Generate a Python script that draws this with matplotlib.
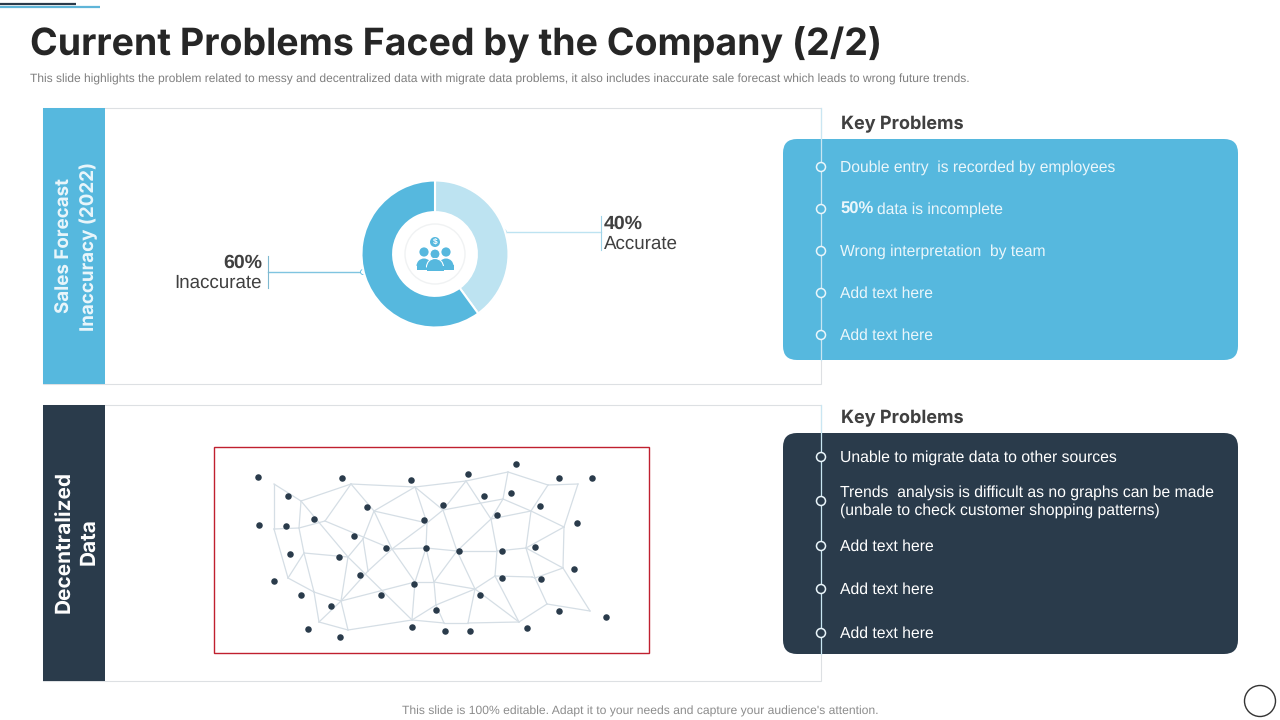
import matplotlib
matplotlib.use("Agg")
import matplotlib.pyplot as plt
from matplotlib.patches import Rectangle, FancyBboxPatch, Circle, Wedge

plt.rcParams["text.hinting"] = "no_hinting"

# donut
donut_labels = ["Accurate", "Inaccurate"]
donut_values = [40, 60]
donut_colors = ["#BDE3F1", "#56B8DE"]

# text
title = "Current Problems Faced by the Company (2/2)"
subtitle = ("This slide highlights the problem related to messy and decentralized data with migrate data problems, "
            "it also includes inaccurate sale forecast which leads to wrong future trends.")
footer = "This slide is 100% editable. Adapt it to your needs and capture your audience's attention."
top_rows = ["Double entry  is recorded by employees", "data is incomplete", "Wrong interpretation  by team", "Add text here", "Add text here"]
top_rows_y = [167, 209, 251, 293, 335]
bottom_rows = ["Unable to migrate data to other sources",
               "Trends  analysis is difficult as no graphs can be made\n(unbale to check customer shopping patterns)",
               "Add text here", "Add text here", "Add text here"]
bottom_rows_y = [457, 501, 546, 589, 633]

# network picture in pixels
dots_x = [258, 342, 411, 288, 367, 314, 424, 259, 286, 354, 386, 426, 290, 339, 360, 414, 274, 301, 381, 331, 308, 340, 412,
          516, 468, 559, 592, 511, 484, 443, 540, 497, 577, 459, 502, 535, 574, 502, 541, 480, 436, 559, 606, 527, 445, 470]
dots_y = [477, 478, 480, 496, 507, 519, 520, 525, 526, 536, 548, 548, 554, 557, 575, 584, 581, 595, 595, 606, 629, 637, 627,
          464, 474, 478, 478, 493, 496, 505, 506, 515, 523, 551, 551, 547, 569, 578, 579, 595, 610, 611, 617, 628, 631, 631]
nodes = {"A": (274, 484), "B": (301, 501), "C": (351, 484), "D": (415, 487), "E": (374, 511), "F": (325, 521),
         "G": (299, 528), "H": (274, 529), "I": (427, 523), "J": (363, 539), "K": (392, 549), "L": (348, 557),
         "M": (304, 553), "N": (288, 578), "O": (368, 571), "P": (314, 592), "Q": (341, 601), "R": (319, 622),
         "S": (348, 630), "T": (412, 620), "a": (466, 481), "b": (508, 472), "c": (548, 485), "d": (578, 484),
         "e": (503, 499), "f": (443, 510), "g": (531, 511), "h": (491, 519), "j": (564, 527), "k": (426, 548),
         "l": (457, 551), "m": (526, 548), "n": (497, 551), "o": (563, 568), "p": (495, 576), "q": (532, 577),
         "r": (535, 578), "s": (475, 589), "t": (434, 582), "u": (547, 604), "v": (590, 611), "w": (519, 622),
         "x": (436, 605), "y": (444, 623), "z": (468, 623), "U": (415, 582)}
edges = ["AB", "AH", "BG", "GH", "BC", "CF", "FG", "CD", "CE", "DE", "DI", "EI", "EK", "EJ", "JO", "FK", "BL", "LJ", "LT",
         "KO", "OQ", "KU", "IK", "Kk", "Ik", "kU", "UT", "Ut", "HN", "NM", "ML", "GM", "MP", "NP", "PQ", "QL", "QU", "PR",
         "QR", "QS", "RS", "ST", "Ty", "Tx", "xs", "xt", "xy", "zs", "zw", "yz", "st", "sl", "tk", "lk", "lt", "lf", "ln",
         "fI", "fa", "fe", "Df", "aD", "ab", "bc", "be", "eh", "eg", "hg", "ah", "hn", "hl", "np", "ps", "pq", "pw", "sw",
         "qr", "cg", "gm", "mn", "mr", "mo", "gj", "cd", "dj", "jm", "jo", "ro", "ru", "ov", "uv", "uw"]

BLUE = "#56B8DE"
DARK = "#2A3B4B"
GREY = "#DDE0E3"
BODY = "Liberation Sans"
HEAD = "Inter"
PALE = "#EAF6FB"


def panel(top, bottom, colour):
    ax.add_patch(Rectangle((43, top), 778, bottom - top, fc="white", ec=GREY, lw=0.8, zorder=1))
    ax.add_patch(Rectangle((43, top), 62, bottom - top, fc=colour, ec="none", zorder=2))


def key_box(top, bottom, colour):
    r = 14
    ax.add_patch(FancyBboxPatch((783 + r, top + r), 455 - 2 * r, bottom - top - 2 * r,
                                boxstyle="round,pad=%d,rounding_size=%d" % (r, r), fc=colour, ec="none", zorder=2))


def row_markers(ys, top, bottom, colour):
    ax.plot([821, 821], [top, bottom], color="#C9E6F2", lw=0.9, zorder=3)
    for y in ys:
        ax.add_patch(Circle((821, y), 4.5, fc=colour, ec=PALE, lw=1.1, zorder=4))


fig = plt.figure(figsize=(12.8, 7.2), dpi=100)
ax = fig.add_axes([0, 0, 1, 1])
ax.set_xlim(0, 1280)
ax.set_ylim(720, 0)
ax.axis("off")

# header
ax.plot([0, 76], [3.5, 3.5], color=DARK, lw=1.6, solid_capstyle="butt")
ax.plot([0, 100], [6.5, 6.5], color="#5FB5D8", lw=1.6, solid_capstyle="butt")
ax.text(30, 45, title, family=HEAD, fontweight="bold", fontsize=27, color="#262626", va="center")
ax.text(30, 79.5, subtitle, family=BODY, fontsize=8.63, color="#7F7F7F", va="center")
ax.text(640, 711, footer, family=BODY, fontsize=8.75, color="#8C8C8C", ha="center", va="center")
ax.add_patch(Circle((1260, 701), 15.5, fc="white", ec="#333333", lw=1))

# left panels
panel(108, 384, BLUE)
panel(405, 681, DARK)
ax.text(77, 246, "Sales Forecast\nInaccuracy (2022)", family=HEAD, fontweight="bold", fontsize=13.5, color=PALE,
        rotation=90, ha="center", va="center", linespacing=1.35, zorder=3)
ax.text(77, 542, "Decentralized\nData", family=HEAD, fontweight="bold", fontsize=15, color="white",
        rotation=90, ha="center", va="center", linespacing=1.25, zorder=3)

# donut
pie_ax = fig.add_axes([(435 - 73.5) / 1280, 1 - (254 + 73.5) / 720, 147 / 1280, 147 / 720])
pie_ax.pie(donut_values, colors=donut_colors, startangle=90, counterclock=False, radius=1,
           wedgeprops=dict(width=0.43, edgecolor="white", linewidth=1.5))
pie_ax.set_xlim(-1, 1)
pie_ax.set_ylim(-1, 1)
ax.add_patch(Circle((435, 254), 30, fc="white", ec="#F0F2F3", lw=1, zorder=3))

# people icon
ax.add_patch(Circle((435, 242), 5, fc=BLUE, ec="none", zorder=4))
ax.text(435, 242, "$", family=BODY, fontweight="bold", fontsize=6, color="white", ha="center", va="center", zorder=5)
for cx in [424, 446]:
    ax.add_patch(Circle((cx, 252), 4.6, fc=BLUE, ec="none", zorder=4))
    ax.add_patch(Wedge((cx, 266), 7.5, 180, 360, fc=BLUE, ec="none", zorder=4))
    ax.add_patch(Rectangle((cx - 7.5, 265), 15, 5, fc=BLUE, ec="none", zorder=4))
ax.add_patch(Circle((435, 254), 5, fc=BLUE, ec="white", lw=0.8, zorder=5))
ax.add_patch(Wedge((435, 267), 8.5, 180, 360, fc=BLUE, ec="white", lw=0.8, zorder=5))
ax.add_patch(Rectangle((426.5, 266), 17, 5, fc=BLUE, ec="none", zorder=5))

# donut callouts
ax.plot([505, 601], [232, 232], color="#BDE3F1", lw=1, zorder=3)
ax.plot([601, 601], [216, 250], color="#9FD3E8", lw=0.8, zorder=3)
ax.add_patch(Circle((504, 232), 2.5, fc="white", ec="#BDE3F1", lw=0.6, zorder=5))
ax.text(604, 224, "%d%%" % donut_values[0], family=BODY, fontweight="bold", fontsize=14, color="#404040", va="center")
ax.text(604, 244, donut_labels[0], family=BODY, fontsize=13.5, color="#404040", va="center")
ax.plot([268, 363], [272, 272], color="#7FC4E0", lw=1, zorder=3)
ax.plot([268, 268], [256, 288], color="#7FB9D0", lw=0.8, zorder=3)
ax.add_patch(Circle((363, 272), 2.5, fc="white", ec=BLUE, lw=0.6, zorder=5))
ax.text(262, 263, "%d%%" % donut_values[1], family=BODY, fontweight="bold", fontsize=14, color="#404040", va="center", ha="right")
ax.text(262, 283, donut_labels[1], family=BODY, fontsize=13.5, color="#404040", va="center", ha="right")

# network picture
ax.add_patch(Rectangle((214, 447), 435, 206, fc="white", ec="#C0202F", lw=1, zorder=2))
for edge in edges:
    p0, p1 = nodes[edge[0]], nodes[edge[1]]
    ax.plot([p0[0], p1[0]], [p0[1], p1[1]], color="#D5DEE5", lw=0.9, zorder=3)
ax.scatter(dots_x, dots_y, s=22, color=DARK, zorder=4, linewidths=0)

# key problem boxes
ax.text(841, 124, "Key Problems", family=HEAD, fontweight="bold", fontsize=13, color="#404040", va="center")
ax.text(841, 418, "Key Problems", family=HEAD, fontweight="bold", fontsize=13, color="#404040", va="center")
key_box(139, 360, BLUE)
key_box(433, 654, DARK)
row_markers(top_rows_y, 108, 360, BLUE)
row_markers(bottom_rows_y, 405, 654, DARK)
for text, y in zip(top_rows, top_rows_y):
    if text == "data is incomplete":
        ax.text(840, y + 0.5, "50%", family=BODY, fontweight="bold", fontsize=12, color=PALE, va="center", zorder=5)
        ax.text(877, y + 0.5, text, family=BODY, fontsize=11.25, color=PALE, va="center", zorder=5)
    else:
        ax.text(840, y + 0.5, text, family=BODY, fontsize=11.25, color=PALE, va="center", zorder=5)
for text, y in zip(bottom_rows, bottom_rows_y):
    ax.text(840, y + 0.5, text, family=BODY, fontsize=11.3, color="white", va="center", linespacing=1.25, zorder=5)

fig.savefig("out.png", dpi=100)
